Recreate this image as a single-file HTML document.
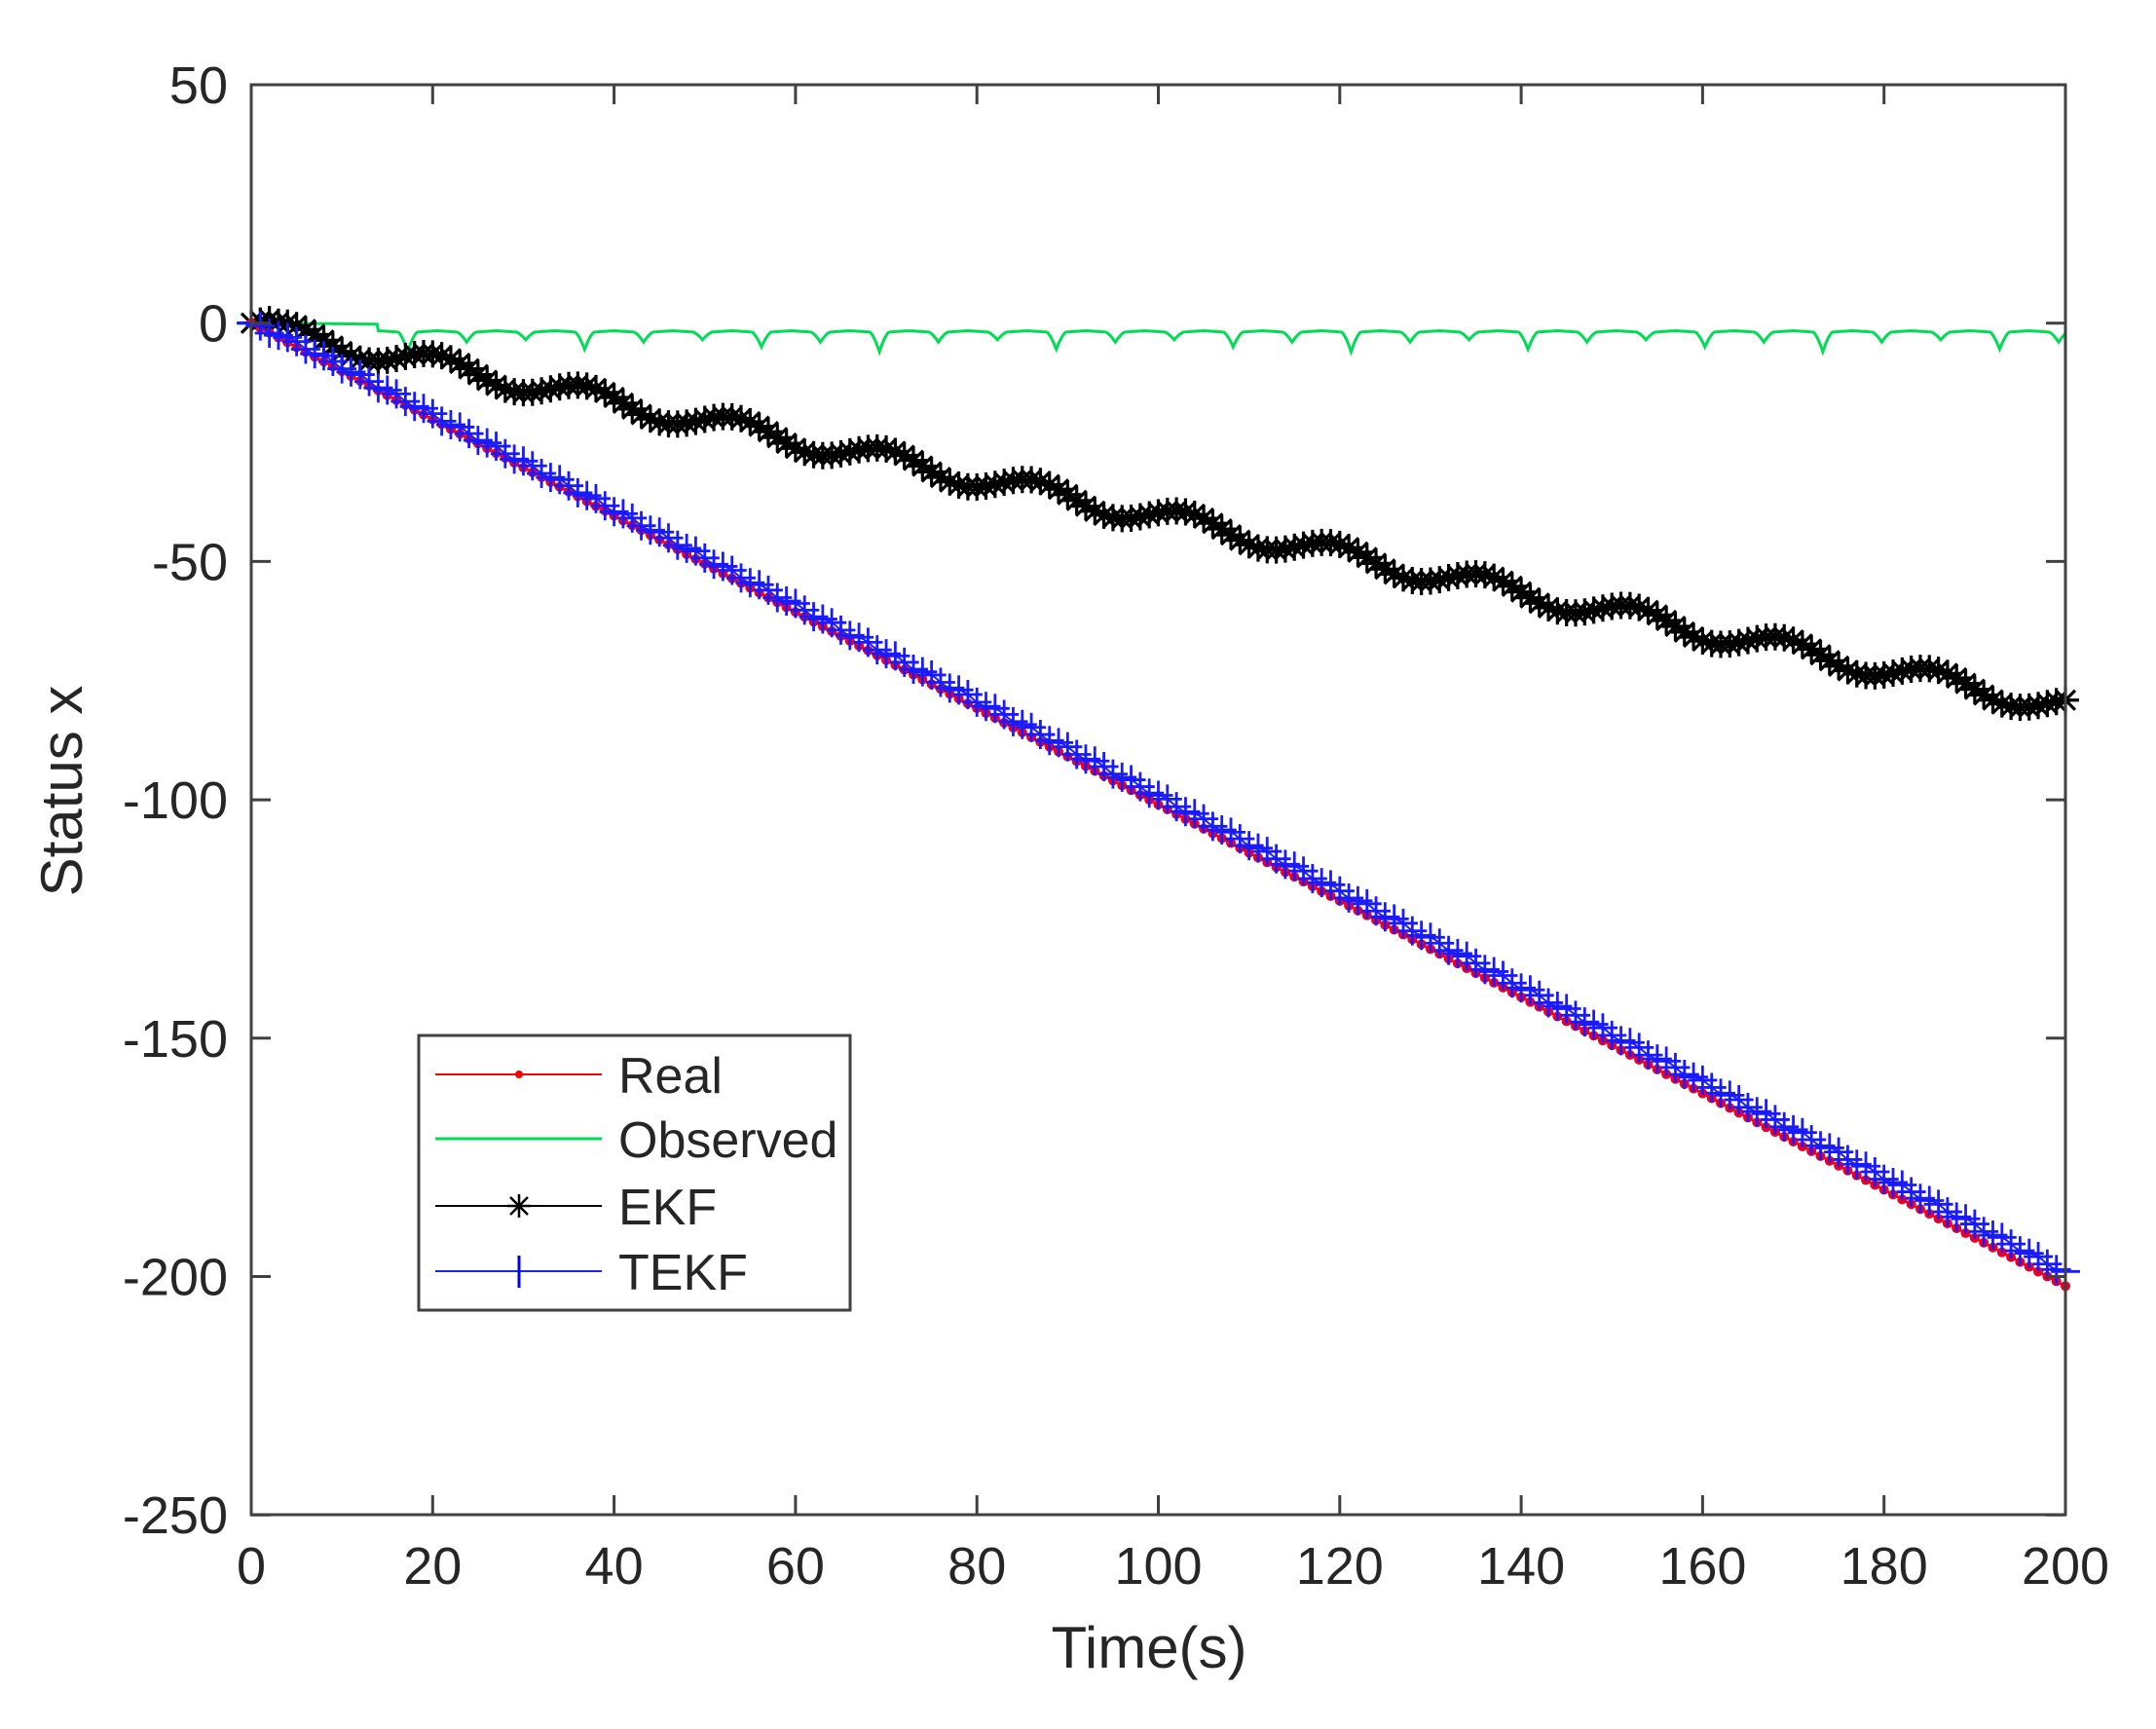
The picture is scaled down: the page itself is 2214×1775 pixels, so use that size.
<!DOCTYPE html>
<html><head><meta charset="utf-8"><style>
html,body{margin:0;padding:0;background:#fff;}
svg text{font-family:"Liberation Sans",Arial,sans-serif;fill:#262626;}
</style></head><body>
<svg id="s" width="2214" height="1770" viewBox="0 0 2214 1770" xmlns="http://www.w3.org/2000/svg">
<rect width="2214" height="1770" fill="#fff"/>
<g id="data"></g>
<g id="axes" stroke="#404040" stroke-width="3" fill="none">
<rect x="258" y="87" width="1863" height="1468"/>
</g>
<g id="ticks" stroke="#404040" stroke-width="3"></g>
<g id="labels" font-size="54"></g>
<text x="1180" y="1712" font-size="60" text-anchor="middle">Time(s)</text>
<text transform="translate(84,812) rotate(-90)" font-size="60" text-anchor="middle">Status x</text>
<g id="legend">
<rect x="430" y="1063" width="443" height="282" fill="#fff" stroke="#404040" stroke-width="3"/>
<line x1="447" y1="1103" x2="618" y2="1103" stroke="#ff0000" stroke-width="2"/>
<circle cx="533" cy="1103" r="4" fill="#ff0000"/>
<line x1="447" y1="1169" x2="618" y2="1169" stroke="#00dd55" stroke-width="3"/>
<line x1="447" y1="1238" x2="618" y2="1238" stroke="#000" stroke-width="2"/>
<g stroke="#000" stroke-width="2.5"><line x1="533" y1="1226" x2="533" y2="1250"/><line x1="521" y1="1238" x2="545" y2="1238"/><line x1="524" y1="1229" x2="542" y2="1247"/><line x1="524" y1="1247" x2="542" y2="1229"/></g>
<line x1="447" y1="1305" x2="618" y2="1305" stroke="#2222ee" stroke-width="2"/>
<line x1="533" y1="1289" x2="533" y2="1322" stroke="#0000ee" stroke-width="3"/>
<text x="635" y="1122" font-size="52" fill="#111">Real</text>
<text x="635" y="1188" font-size="52" fill="#111">Observed</text>
<text x="635" y="1257" font-size="52" fill="#111">EKF</text>
<text x="635" y="1324" font-size="52" fill="#111">TEKF</text>
</g>
</svg>
<script>
(function(){
var NS="http://www.w3.org/2000/svg";
function X(t){return 258+t*9.315;}
function Y(v){return 331.7-v*4.894;}
function el(n,a,p){var e=document.createElementNS(NS,n);for(var k in a)e.setAttribute(k,a[k]);p.appendChild(e);return e;}
var tk=document.getElementById('ticks'),lb=document.getElementById('labels');
for(var i=0;i<=10;i++){var x=X(i*20);
 el('line',{x1:x,y1:1555,x2:x,y2:1535},tk);el('line',{x1:x,y1:87,x2:x,y2:107},tk);
 var t=el('text',{x:x,y:1626,'text-anchor':'middle'},lb);t.textContent=String(i*20);}
for(var j=0;j<=6;j++){var v=50-50*j,y=Y(v);
 el('line',{x1:258,y1:y,x2:278,y2:y},tk);el('line',{x1:2121,y1:y,x2:2101,y2:y},tk);
 var t2=el('text',{x:234,y:y+19,'text-anchor':'end'},lb);t2.textContent=String(v);}
var d=document.getElementById('data');
function real(t){return -1.01*t;}
function tekf(t){return -1.0*t+(t>2?0.8:0)+0.4*Math.sin(t*1.7);}
function ekf(t){return -0.4*t+2.2*Math.sin(2*Math.PI*t/16.5)-0.6+(t<3?0.6:0);}
function obs(t){if(t<14)return -0.15*t*0.1;var p=(t-14)%6.5/6.5;var dip=[4,2,1.5,3.5,2,1.5,3,2][Math.floor((t-14)/6.5)%8];
 var c=Math.abs(p-0.5)*2;return -2-dip*Math.pow(Math.max(0,1-c*3),1.5)+0.4*c;}
var pts=function(f,n){var s='';for(var k=0;k<=n;k++){var t=200*k/n;s+=(k?'L':'M')+X(t).toFixed(1)+' '+Y(f(t)).toFixed(1);}return s;};
el('path',{d:pts(obs,1600),stroke:'#00dd55','stroke-width':3,fill:'none'},d);
el('path',{d:pts(ekf,400),stroke:'#000','stroke-width':2,fill:'none'},d);
var m='';for(var t=0;t<=200;t+=1){var x=X(t),y=Y(ekf(t)),r=14,q=10;
 m+='M'+x+' '+(y-r)+'V'+(y+r)+'M'+(x-r)+' '+y+'H'+(x+r)+'M'+(x-q)+' '+(y-q)+'L'+(x+q)+' '+(y+q)+'M'+(x-q)+' '+(y+q)+'L'+(x+q)+' '+(y-q);}
el('path',{d:m,stroke:'#000','stroke-width':3.2,fill:'none'},d);
el('path',{d:pts(real,200),stroke:'#ff0000','stroke-width':2.5,fill:'none'},d);
var rm='';for(var t=0;t<=200;t+=1){var x=X(t),y=Y(real(t));rm+='M'+(x-5)+' '+y+'a5 5 0 1 0 10 0a5 5 0 1 0 -10 0';}
el('path',{d:rm,fill:'#e8002a'},d);
el('path',{d:pts(tekf,400),stroke:'#2222ee','stroke-width':2,fill:'none'},d);
var bm='';for(var t=0;t<=200;t+=1){var x=X(t),y=Y(tekf(t)),r=15;bm+='M'+x+' '+(y-r)+'V'+(y+r)+'M'+(x-r)+' '+y+'H'+(x+r);}
el('path',{d:bm,stroke:'#1a1aff','stroke-width':2.8,fill:'none'},d);
})();
</script>
</body></html>
